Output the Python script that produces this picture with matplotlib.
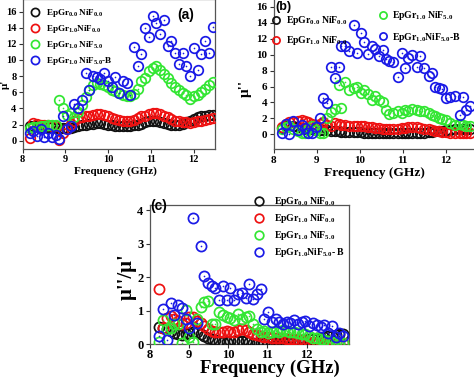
import matplotlib
matplotlib.use("Agg")
import matplotlib.pyplot as plt

# ---------------- data ----------------
# panel (a): mu'
freq_a = [8.16, 8.25, 8.33, 8.42, 8.51, 8.60, 8.68, 8.77, 8.86, 8.95, 9.03, 9.12, 9.21, 9.30, 9.38,
          9.47, 9.56, 9.65, 9.73, 9.82, 9.91, 10.00, 10.08, 10.17, 10.26, 10.35, 10.43, 10.52, 10.61,
          10.70, 10.78, 10.87, 10.96, 11.05, 11.13, 11.22, 11.31, 11.40, 11.48, 11.57, 11.66, 11.75,
          11.83, 11.92, 12.01, 12.10, 12.18, 12.27, 12.36, 12.45]
a_black = [1.8, 1.8, 1.8, 1.7, 1.7, 1.7, 1.7, 1.6, 1.6, 1.6, 1.6, 1.6, 1.7, 1.8, 1.9,
           2.0, 2.1, 2.1, 2.2, 2.2, 2.1, 2.0, 1.9, 1.8, 1.8, 1.8, 1.8, 1.8, 1.9,
           2.0, 2.1, 2.3, 2.4, 2.5, 2.4, 2.3, 2.2, 2.1, 2.0, 2.0, 2.0, 2.1,
           2.3, 2.5, 2.7, 2.9, 3.0, 3.1, 3.2, 3.2]
a_red = [0.3, 2.2, 2.1, 2.0, 2.0, 1.9, 1.8, 1.8, 0.1, 1.0, 1.5, 2.1, 2.5, 2.8, 2.9,
         3.0, 3.1, 3.2, 3.3, 3.3, 3.2, 3.0, 2.8, 2.7, 2.6, 2.5, 2.4, 2.5, 2.6,
         2.8, 3.0, 3.1, 3.3, 3.4, 3.4, 3.3, 3.1, 2.9, 2.7, 2.5, 2.4, 2.3,
         2.3, 2.2, 2.3, 2.4, 2.5, 2.6, 2.7, 2.8]
a_green = [1.6, 1.7, 1.7, 1.8, 1.8, 1.9, 1.9, 2.0, 5.0, 4.1, 3.2, 3.4, 2.9, 3.6, 4.4,
           5.4, 6.3, 6.9, 7.1, 7.0, 6.9, 6.6, 6.3, 6.1, 5.9, 5.7, 5.5, 5.5, 5.8,
           6.4, 7.4, 7.8, 8.6, 9.0, 9.2, 8.8, 8.3, 7.8, 7.2, 6.7, 6.3, 5.9,
           5.6, 5.2, 5.5, 5.7, 6.0, 6.4, 6.9, 7.3]
a_blue = [0.9, 1.2, 0.6, 1.4, 0.5, 0.9, 0.4, 0.7, 0.2, 3.0, 1.5, 1.8, 4.6, 4.1, 5.0,
          8.4, 6.3, 8.0, 7.9, 7.7, 8.4, 7.4, 6.6, 7.9, 5.9, 7.4, 7.2, 5.7, 11.6,
          9.3, 10.7, 14.0, 12.8, 15.5, 14.6, 13.2, 14.9, 11.7, 12.3, 10.9, 9.5, 10.9,
          9.3, 8.0, 11.5, 8.7, 10.7, 12.4, 10.9, 14.1]

# panel (b): mu''
freq_b = [8.19, 8.29, 8.37, 8.46, 8.56, 8.66, 8.73, 8.81, 8.89, 8.98, 9.07, 9.14, 9.24, 9.33,
          9.42, 9.51, 9.56, 9.65, 9.76, 9.86, 9.93, 10.03, 10.11, 10.20, 10.28, 10.36, 10.46,
          10.54, 10.61, 10.69, 10.78, 10.90, 10.98, 11.05, 11.13, 11.22, 11.33, 11.40, 11.50,
          11.60, 11.67, 11.75, 11.83, 11.92, 12.00, 12.10, 12.21, 12.32, 12.39, 12.47, 12.55]
b_black = [0.8, 1.0, 1.1, 1.0, 0.9, 0.8, 0.7, 0.6, 0.6, 0.5, 0.5, 0.5, 0.5, 0.4,
           0.4, 0.35, 0.3, 0.3, 0.3, 0.3, 0.25, 0.25, 0.2, 0.2, 0.2, 0.2, 0.2,
           0.2, 0.2, 0.2, 0.2, 0.2, 0.2, 0.2, 0.2, 0.2, 0.2, 0.2, 0.2,
           0.25, 0.3, 0.35, 0.4, 0.45, 0.5, 0.55, 0.6, 0.65, 0.7, 0.7, 0.7]
b_red = [0.9, 1.3, 1.5, 1.6, 1.7, 1.8, 1.7, 1.5, 1.3, 1.2, 1.3, 1.5, 1.2, 1.0,
         1.4, 1.3, 1.2, 1.2, 1.1, 1.1, 1.0, 1.0, 1.0, 0.9, 0.9, 0.8, 0.8,
         0.7, 0.7, 0.7, 0.7, 0.7, 0.8, 0.8, 0.9, 0.9, 0.9, 0.8, 0.7,
         0.6, 0.5, 0.4, 0.4, 0.3, 0.3, 0.2, 0.1, 0.1, 0.1, 0.1, 0.1]
b_green = [0.7, 0.9, 1.0, 0.7, 0.4, 0.2, 0.1, 0.6, 1.0, 0.5, 0.2, 0.1, 2.0, 2.8,
           3.2, 6.2, 3.3, 6.6, 5.6, 5.8, 6.0, 5.2, 5.6, 5.0, 4.3, 4.8, 4.3,
           4.1, 3.1, 2.6, 2.7, 2.9, 2.7, 3.1, 2.9, 3.2, 3.1, 2.9, 2.9,
           2.7, 2.4, 2.3, 2.0, 1.9, 1.8, 1.4, 1.2, 1.3, 1.2, 1.1, 1.0]
b_blue = [0.1, 1.3, 0.0, 1.7, 0.5, 1.2, 0.8, 0.1, 0.2, 0.9, 2.0, 4.5, 3.9, 8.5,
          7.1, 8.5, 11.1, 11.1, 10.5, 13.7, 10.2, 12.7, 11.6, 10.1, 11.1, 10.7, 9.8,
          10.6, 9.5, 9.2, 9.1, 7.2, 10.2, 8.3, 9.6, 10.0, 8.4, 9.8, 8.3,
          7.3, 7.7, 5.9, 5.8, 5.7, 4.6, 4.7, 4.8, 2.4, 4.7, 3.1, 3.5]

# panel (c): mu''/mu'
freq_c = [8.25, 8.35, 8.44, 8.54, 8.63, 8.73, 8.82, 8.92, 9.01, 9.11, 9.21, 9.30, 9.40, 9.49,
          9.59, 9.68, 9.78, 9.87, 9.97, 10.06, 10.16, 10.26, 10.35, 10.45, 10.54, 10.64, 10.73,
          10.83, 10.92, 11.02, 11.12, 11.21, 11.31, 11.40, 11.50, 11.59, 11.69, 11.78, 11.88,
          11.97, 12.07, 12.17, 12.26, 12.36, 12.45, 12.55, 12.64, 12.74, 12.83, 12.93]
c_black = [0.52, 0.50, 0.45, 0.40, 0.35, 0.30, 0.28, 0.30, 0.35, 0.38, 0.38, 0.30, 0.25, 0.20,
           0.15, 0.12, 0.10, 0.08, 0.08, 0.10, 0.10, 0.10, 0.10, 0.10, 0.08, 0.05, 0.05,
           0.04, 0.04, 0.05, 0.05, 0.06, 0.07, 0.08, 0.10, 0.10, 0.10, 0.12, 0.12,
           0.14, 0.15, 0.16, 0.18, 0.20, 0.22, 0.24, 0.26, 0.28, 0.30, 0.32]
c_red = [1.64, 0.50, 0.80, 0.85, 0.75, 0.70, 0.60, 0.65, 0.82, 0.82, 0.70, 0.65, 0.55, 0.45,
         0.40, 0.38, 0.36, 0.38, 0.40, 0.36, 0.38, 0.42, 0.45, 0.42, 0.38, 0.32, 0.28,
         0.25, 0.22, 0.22, 0.20, 0.20, 0.18, 0.18, 0.16, 0.15, 0.15, 0.12, 0.12,
         0.10, 0.08, 0.06, 0.05, 0.05, 0.04, 0.04, 0.04, 0.03, 0.03, 0.03]
c_green = [0.08, 0.72, 0.46, 0.50, 0.60, 0.62, 0.03, 1.02, 0.23, 0.08, 0.75, 1.10, 1.25, 1.30,
           0.62, 0.60, 0.95, 0.88, 0.82, 0.80, 0.72, 0.89, 0.77, 0.82, 0.85, 0.60, 0.45,
           0.38, 0.40, 0.33, 0.38, 0.40, 0.38, 0.42, 0.40, 0.38, 0.36, 0.35, 0.30,
           0.30, 0.25, 0.20, 0.18, 0.15, 0.12, 0.10, 0.08, 0.06, 0.05, 0.05]
c_blue = [0.25, 1.05, 0.12, 1.22, 0.87, 1.17, 1.09, 0.75, 0.48, 3.76, 0.65, 2.93, 2.04, 1.84,
          1.74, 1.68, 1.32, 1.73, 1.31, 1.68, 1.31, 1.51, 1.54, 1.39, 1.81, 1.34, 1.51,
          1.64, 0.77, 0.97, 0.67, 0.75, 0.68, 0.62, 0.68, 0.65, 0.72, 0.60, 0.68,
          0.70, 0.55, 0.65, 0.58, 0.52, 0.58, 0.35, 0.55, 0.22, 0.35, 0.25]

x_ticks = [8, 9, 10, 11, 12]
labels_a = [r"EpGr$_{0.0}$ NiF$_{0.0}$", r"EpGr$_{1.0}$NiF$_{0.0}$",
            r"EpGr$_{1.0}$ NiF$_{5.0}$", r"EpGr$_{1.0}$ NiF$_{5.0}$-B"]
labels_b = [r"EpGr$_{0.0}$ NiF$_{0.0}$", r"EpGr$_{1.0}$ NiF$_{0.0}$",
            r"EpGr$_{1.0}$ NiF$_{5.0}$", r"EpGr$_{1.0}$NiF$_{5.0}$-B"]
labels_c = [r"EpGr$_{0.0}$ NiF$_{0.0}$", r"EpGr$_{1.0}$ NiF$_{0.0}$",
            r"EpGr$_{1.0}$ NiF$_{5.0}$", r"EpGr$_{1.0}$NiF$_{5.0}$- B"]

# ---------------- style ----------------
plt.rcParams["font.family"] = ["Liberation Serif", "DejaVu Serif"]
plt.rcParams["font.weight"] = "bold"
plt.rcParams["mathtext.default"] = "regular"
plt.rcParams["axes.linewidth"] = 0.9

colors = ["#111111", "#ee1111", "#33e633", "#1a1ae6"]
W, H = 474, 378
fig = plt.figure(figsize=(W / 100, H / 100), dpi=100)


def add_ax(l, t, r, b):
    return fig.add_axes([l / W, 1 - b / H, (r - l) / W, (b - t) / H])


def fx(x):
    return x / W


def fy(y):
    return 1 - y / H


def draw(ax, fr, series, ms, mew, dot_ms):
    handles = []
    for s, c in zip(series, colors):
        h, = ax.plot(fr, s, linestyle="none", marker="o", ms=ms, mfc="none",
                     mec=c, mew=mew, zorder=3)
        if c in (colors[2], colors[3]):
            ax.plot(fr, s, linestyle="none", marker="o", ms=dot_ms, mfc=c, mec=c,
                    mew=0, zorder=3)
        handles.append(h)
    return handles


def style(ax, fs):
    for sp in ax.spines.values():
        sp.set_color("#555555")
    ax.tick_params(direction="out", length=3, width=0.8, labelsize=fs, top=False,
                   right=False, pad=1.5, color="#333333")
    for lab in ax.get_xticklabels() + ax.get_yticklabels():
        lab.set_fontweight("bold")


# ---- panel (a)
axA = add_ax(22.7, -1, 215, 149)
hA = draw(axA, freq_a, [a_black, a_red, a_green, a_blue], 6.9, 1.25, 1.2)
axA.set_xlim(8, 12.5)
axA.set_ylim(-1.03, 17.55)
axA.set_xticks(x_ticks)
axA.set_yticks([0, 2, 4, 6, 8, 10, 12, 14, 16])
style(axA, 7.5)
fig.legend(hA, labels_a, loc="upper left", bbox_to_anchor=(fx(30), fy(7)),
           frameon=False, handlelength=1.0, handletextpad=0.7,
           labelspacing=0.45, borderpad=0, borderaxespad=0, markerscale=0.85,
           prop={"weight": "bold", "size": 6.6})
fig.text(fx(186), fy(15), "(a)", family="Liberation Sans", weight="bold",
         fontsize=10, ha="center", va="center")
fig.text(fx(115), fy(171), "Frequency (GHz)", fontsize=8, weight="bold",
         ha="center", va="center")
fig.text(fx(5.5), fy(84), "\u03bc'", fontsize=8, weight="bold", rotation=90,
         ha="center", va="center")

# ---- panel (b)
axB = add_ax(273.5, -1, 476, 149.3)
hB = draw(axB, freq_b, [b_black, b_red, b_green, b_blue], 6.9, 1.25, 1.2)
axB.set_xlim(8, 12.7)
axB.set_ylim(-1.89, 17.0)
axB.set_xticks(x_ticks)
axB.set_yticks([0, 2, 4, 6, 8, 10, 12, 14, 16])
style(axB, 8)
axB.spines["right"].set_visible(False)
fig.legend(hB[:2], labels_b[:2], loc="upper left", bbox_to_anchor=(fx(272), fy(14)),
           frameon=False, handlelength=0.8, handletextpad=0.6,
           labelspacing=0.75, borderpad=0, borderaxespad=0, markerscale=0.75,
           prop={"weight": "bold", "size": 7})
fig.legend(hB[2:], labels_b[2:], loc="upper left", bbox_to_anchor=(fx(379), fy(9.5)),
           frameon=False, handlelength=0.8, handletextpad=0.5,
           labelspacing=0.85, borderpad=0, borderaxespad=0, markerscale=0.75,
           prop={"weight": "bold", "size": 7})
fig.text(fx(283), fy(7), "(b)", family="Liberation Sans", weight="bold",
         fontsize=9, ha="center", va="center")
fig.text(fx(374), fy(173), "Frequency (GHz)", fontsize=9.7, weight="bold",
         ha="center", va="center")
fig.text(fx(245), fy(88), "\u03bc''", fontsize=11, weight="bold", rotation=90,
         ha="center", va="center")

# ---- panel (c)
axC = add_ax(149.5, 205, 349, 344.3)
hC = draw(axC, freq_c, [c_black, c_red, c_green, c_blue], 7.3, 1.25, 1.2)
axC.set_xlim(8, 13.08)
axC.set_ylim(0, 4.16)
axC.set_xticks(x_ticks)
axC.set_yticks([0, 1, 2, 3, 4])
style(axC, 9)
axC.tick_params(axis="x", pad=0.5)
fig.legend(hC, labels_c, loc="upper left", bbox_to_anchor=(fx(255), fy(195)),
           frameon=False, handlelength=0.9, handletextpad=1.1,
           labelspacing=0.42, borderpad=0, borderaxespad=0, markerscale=0.85,
           prop={"weight": "bold", "size": 7})
fig.text(fx(159), fy(206), "(c)", family="Liberation Sans", weight="bold",
         fontsize=10, ha="center", va="center")
fig.text(fx(270), fy(368.5), "Frequency (GHz)", fontsize=13.5, weight="bold",
         ha="center", va="center")
fig.text(fx(127), fy(277), "\u03bc''/\u03bc'", fontsize=15, weight="bold", rotation=90,
         ha="center", va="center")

fig.savefig("out.png", dpi=100)
